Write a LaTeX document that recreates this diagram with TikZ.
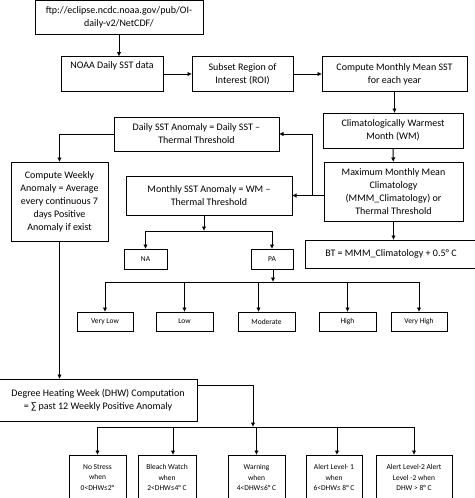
\documentclass[tikz,border=0pt]{standalone}
\usepackage{fontspec}
\setmainfont{Carlito}
\usetikzlibrary{arrows.meta, positioning}

\begin{document}
\begin{tikzpicture}[
  x=1pt,
  y=-1pt,
  box/.style={
    draw,
    line width=1pt,
    align=center,
    inner sep=1pt,
    outer sep=0pt,
    font=\fontsize{10}{13}\selectfont
  },
  small/.style={
    box,
    font=\fontsize{7.5}{10.5}\selectfont
  },
  arr/.style={
    -{Latex[length=4.5pt,width=4.5pt]},
    line width=1pt
  },
  link/.style={
    line width=1pt
  }
]

\useasboundingbox (0,0) rectangle (474,498);

% Boxes, top part
\node [box, minimum width=168pt, minimum height=34pt] (src) at (119,17)
  {ftp://eclipse.ncdc.noaa.gov/pub/OI-\\daily-v2/NetCDF/};
\node [box, minimum width=102pt, minimum height=35pt] (noaa) at (112,74) {NOAA Daily SST data\\[4pt]};
\node [box, minimum width=101pt, minimum height=35pt] (roi) at (242.5,74) {Subset Region of\\Interest (ROI)};
\node [box, minimum width=145pt, minimum height=35pt] (mean) at (394.5,74) {Compute Monthly Mean SST\\for each year};
\node [box, minimum width=140pt, minimum height=35pt] (wm) at (393,130.5) {Climatologically Warmest\\Month (WM)};
\node [box, minimum width=165pt, minimum height=34pt] (daily) at (196.5,134) {Daily SST Anomaly = Daily SST --\\Thermal Threshold};
\node [box, minimum width=139pt, minimum height=59pt] (mmm) at (393.5,191.5)
  {Maximum Monthly Mean\\Climatology\\(MMM\_Climatology) or\\Thermal Threshold};
\node [box, minimum width=97pt, minimum height=79pt] (weekly) at (59.5,201.5)
  {Compute Weekly\\Anomaly = Average\\every continuous 7\\days Positive\\Anomaly if exist};
\node [box, minimum width=166pt, minimum height=39pt] (monthly) at (209,195.5) {Monthly SST Anomaly = WM --\\Thermal Threshold};
\node [box, minimum width=172pt, minimum height=28pt] (bt) at (391,254) {BT = MMM\_Climatology + 0.5° C};

% Anomaly classes
\node [small, minimum width=43pt, minimum height=20pt] (na) at (145.5,259) {NA};
\node [small, minimum width=42pt, minimum height=20pt] (pa) at (272,259) {PA};
\node [small, minimum width=56pt, minimum height=19pt] (vlow) at (105,321.5) {Very Low};
\node [small, minimum width=57pt, minimum height=19pt] (low) at (184.5,321.5) {Low};
\node [small, minimum width=57pt, minimum height=19pt] (mod) at (266.5,321.5) {Moderate};
\node [small, minimum width=57pt, minimum height=19pt] (high) at (347.5,321.5) {High};
\node [small, minimum width=56pt, minimum height=19pt] (vhigh) at (419,321.5) {Very High};

% DHW part
\node [box, minimum width=198pt, minimum height=42pt] (dhw) at (98,400)
  {Degree Heating Week (DHW) Computation\\= ∑ past 12 Weekly Positive Anomaly};
\node [small, minimum width=57pt, minimum height=45pt] (nostress) at (97.5,477.5) {No Stress\\when\\0<DHW≤2°};
\node [small, minimum width=58pt, minimum height=45pt] (bleach) at (167,477.5) {Bleach Watch\\when\\2<DHW≤4° C};
\node [small, minimum width=57pt, minimum height=45pt] (warn) at (256.5,477.5) {Warning\\when\\4<DHW≤6° C};
\node [small, minimum width=56pt, minimum height=45pt] (alerta) at (334,477.5) {Alert Level- 1\\when\\6<DHW≤ 8° C};
\node [small, minimum width=76pt, minimum height=45pt] (alertb) at (414,477.5) {Alert Level-2 Alert\\Level -2 when\\DHW > 8° C};

% Junctions
\coordinate (j1) at (312,195.5);
\coordinate (b1) at (204,231);
\coordinate (b2) at (273,282);
\coordinate (b3) at (253,427);

% Arrows, top part
\draw [arr] (src.south) -- (src.south |- noaa.north);
\draw [arr] (noaa) -- (roi);
\draw [arr] (roi) -- (mean);
\draw [arr] (mean.south) -- (mean.south |- wm.north);
\draw [arr] (wm) -- (mmm);
\draw [arr] (mmm.west |- monthly) -- (monthly.east);
\draw [arr] (j1) |- (daily.east);
\draw [arr] (daily.west) -| (weekly.north);
\draw [arr] (mmm.south) -- (mmm.south |- bt.north);

% Arrows, anomaly classes
\draw [arr] (monthly.south -| b1) -- (b1);
\draw [link] (na.north |- b1) -- (pa.north |- b1);
\draw [arr] (na.north |- b1) -- (na.north);
\draw [arr] (pa.north |- b1) -- (pa.north);
\draw [arr] (pa.south -| b2) -- (b2);
\draw [link] (vlow.north |- b2) -- (vhigh.north |- b2);
\foreach \n in {vlow, low, high, vhigh}
  \draw [arr] (\n.north |- b2) -- (\n.north);
\draw [arr] ([xshift=-8pt]mod.north |- b2) -- ([xshift=-8pt]mod.north);

% Arrows, DHW part
\draw [arr] (weekly.south) -- (weekly.south |- dhw.north);
\draw [arr] ([yshift=15pt]dhw.east) -| (b3);
\draw [link] (nostress.north |- b3) -- (alertb.north |- b3);
\foreach \n in {nostress, warn, alertb}
  \draw [arr] (\n.north |- b3) -- (\n.north);
\draw [arr] ([xshift=6pt]bleach.north |- b3) -- ([xshift=6pt]bleach.north);
\draw [arr] ([xshift=3pt]alerta.north |- b3) -- ([xshift=3pt]alerta.north);

\end{tikzpicture}
\end{document}
